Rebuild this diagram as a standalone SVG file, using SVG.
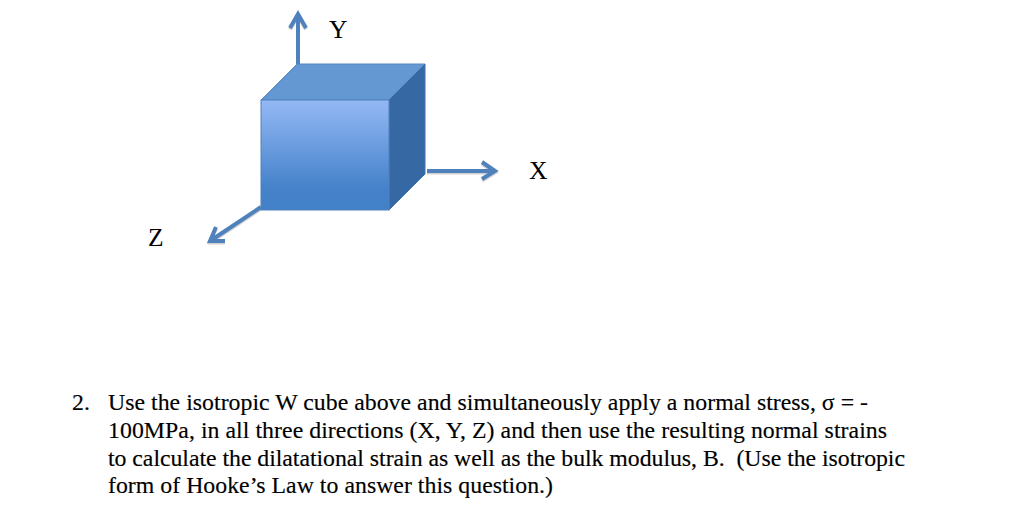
<svg xmlns="http://www.w3.org/2000/svg" width="1024" height="525" viewBox="0 0 1024 525">
<style>
text{font-family:"Liberation Serif","Times New Roman",serif;fill:#000;white-space:pre}
.body{font-size:23.8px;stroke:#000;stroke-width:.15}
.lab{font-size:25.5px}
.axis{fill:none;stroke:#4f81bd;stroke-width:4}
.shadow{fill:none;stroke:#8a8a8a;stroke-opacity:.4;stroke-width:4}
</style>
<defs>
<linearGradient id="front" x1="0" y1="0" x2="0" y2="1">
<stop offset="0" stop-color="#94b9f5"/><stop offset=".8" stop-color="#4582ca"/><stop offset="1" stop-color="#4280c8"/>
</linearGradient>
</defs>
<rect width="1024" height="525" fill="#fff"/>
<g id="connectors">
<g transform="translate(0,1.5)">
<path class="shadow" d="M298 64V15M290 28L298 14L306 28"/>
<path class="shadow" d="M427 171H494M482 162L495 171L482 179"/>
<path class="shadow" d="M261 207L210 241M216 227L210 241L225 241"/>
</g>
<path id="axis-y" class="axis" d="M298 64V15M290 28L298 14L306 28"/>
<path id="axis-x" class="axis" d="M427 171H494M482 162L495 171L482 179"/>
<path id="axis-z" class="axis" d="M261 207L210 241M216 227L210 241L225 241"/>
</g>
<g id="cube">
<path d="M261 100L297 64H425L389 100Z" fill="#6398d3" stroke="#5688c4" stroke-width="1"/>
<path d="M389 100L425 64V174L389 210Z" fill="#3669a4" stroke="#3f74b0" stroke-width="1"/>
<rect x="261" y="100" width="128" height="110" fill="url(#front)" stroke="#4f81bd" stroke-width="1"/>
</g>
<g id="label-y"><text class="lab" x="329" y="38">Y</text></g>
<g id="label-x"><text class="lab" x="529" y="179">X</text></g>
<g id="label-z"><text class="lab" x="148" y="246">Z</text></g>
<g id="question">
<text class="body" x="72" y="410">2.</text>
<text class="body" x="108" y="410" textLength="760" lengthAdjust="spacing">Use the isotropic W cube above and simultaneously apply a normal stress, σ = -</text>
<text class="body" x="108" y="438" textLength="779" lengthAdjust="spacing">100MPa, in all three directions (X, Y, Z) and then use the resulting normal strains</text>
<text class="body" x="108" y="466" textLength="797" lengthAdjust="spacing">to calculate the dilatational strain as well as the bulk modulus, B.  (Use the isotropic</text>
<text class="body" x="108" y="493" textLength="445" lengthAdjust="spacing">form of Hooke’s Law to answer this question.)</text>
</g>
</svg>
